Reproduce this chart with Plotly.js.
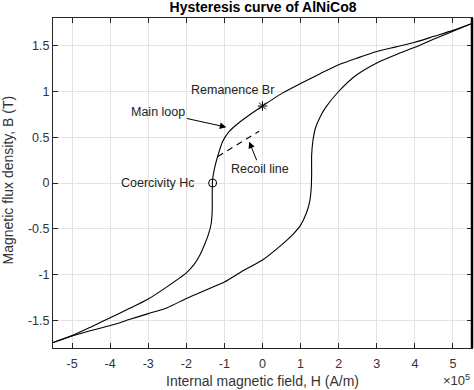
<!DOCTYPE html>
<html><head><meta charset="utf-8">
<script src="https://cdn.plot.ly/plotly-3.0.1.min.js"></script>
<style>html,body{margin:0;padding:0;background:#fff}#chart{width:474px;height:390px}</style>
</head><body><div id="chart"></div>
<script>
// H in units of 1e5 A/m, B in T
const descH = [5.5, 5.0, 4.5, 4.0, 3.5, 3.0, 2.5, 2.0, 1.5, 1.0, 0.5, 0.0, -0.4, -0.7, -0.9, -1.05, -1.17, -1.26, -1.31, -1.32, -1.32, -1.35, -1.42, -1.52, -1.65, -1.8, -2.0, -2.5, -3.0, -3.5, -4.0, -4.5, -5.0, -5.5];
const descB = [1.74, 1.665, 1.60, 1.535, 1.485, 1.435, 1.365, 1.29, 1.19, 1.085, 0.975, 0.84, 0.725, 0.63, 0.55, 0.45, 0.30, 0.16, 0.04, -0.1, -0.3, -0.45, -0.56, -0.67, -0.79, -0.89, -0.98, -1.13, -1.265, -1.37, -1.47, -1.57, -1.665, -1.74];
const ascH = [-5.5, -5.0, -4.5, -4.0, -3.5, -3.0, -2.5, -2.0, -1.5, -1.0, -0.5, 0.0, 0.5, 0.8, 1.0, 1.15, 1.24, 1.28, 1.29, 1.29, 1.32, 1.39, 1.5, 1.65, 1.98, 2.44, 3.0, 3.5, 4.0, 4.5, 5.0, 5.5];
const ascB = [-1.74, -1.67, -1.61, -1.555, -1.49, -1.425, -1.36, -1.26, -1.17, -1.08, -0.955, -0.84, -0.675, -0.56, -0.46, -0.33, -0.2, -0.05, 0.1, 0.3, 0.45, 0.60, 0.71, 0.82, 0.99, 1.17, 1.31, 1.40, 1.48, 1.57, 1.655, 1.74];
const recoilH = [-1.17, -0.09];
const recoilB = [0.29, 0.565];
const brH = [0], brB = [0.84];
const hcH = [-1.31], hcB = [0];
const xTicks = [-5, -4, -3, -2, -1, 0, 1, 2, 3, 4, 5];
const yTicks = [-1.5, -1, -0.5, 0, 0.5, 1, 1.5];
const yTickText = ['-1.5', '-1', '-0.5', '0', '0.5', '1', '1.5'];

const ln = {color: '#000', width: 1.1, shape: 'spline', smoothing: 0.6};
const traces = [
  {x: descH, y: descB, mode: 'lines', line: ln},
  {x: ascH, y: ascB, mode: 'lines', line: ln},
  {x: recoilH, y: recoilB, mode: 'lines', line: {color: '#000', width: 1.1, dash: '6px,5px'}},
  {x: brH, y: brB, mode: 'markers', marker: {symbol: 'asterisk-open', size: 8, color: '#000', line: {color: '#000', width: 1}}},
  {x: hcH, y: hcB, mode: 'markers', marker: {symbol: 'circle-open', size: 8, color: '#000', line: {color: '#000', width: 1}}}
];
const ff = 'Liberation Sans, Arial, sans-serif';
const axFont = {family: ff, size: 12.5, color: '#333'};
const annFont = {family: ff, size: 12.5, color: '#222'};
const layout = {
  width: 474, height: 390,
  margin: {l: 53, r: 2, t: 18, b: 42},
  paper_bgcolor: '#fff', plot_bgcolor: '#fff',
  showlegend: false,
  title: {text: '<b>Hysteresis curve of AlNiCo8</b>', x: 0.555, xanchor: 'center', y: 0.995, yanchor: 'top',
          font: {family: ff, size: 14, color: '#000'}},
  xaxis: {range: [-5.5, 5.5], tickvals: xTicks, ticktext: xTicks.map(String), ticks: 'inside', ticklen: 5, tickcolor: '#262626',
          showline: true, linecolor: '#262626', linewidth: 1, mirror: 'ticks', zeroline: false, ticklabelstandoff: 4,
          showgrid: true, gridcolor: '#e3e3e3', gridwidth: 1, tickfont: axFont,
          title: {text: 'Internal magnetic field, H (A/m)', font: {family: ff, size: 14, color: '#333'}, standoff: 6}},
  yaxis: {range: [-1.8, 1.8], tickvals: yTicks, ticktext: yTickText, ticks: 'inside', ticklen: 5, tickcolor: '#262626',
          showline: true, linecolor: '#262626', linewidth: 1, mirror: 'ticks', zeroline: false,
          showgrid: true, gridcolor: '#e3e3e3', gridwidth: 1, tickfont: axFont},
  shapes: [
    {type: 'line', xref: 'paper', yref: 'paper', x0: 1, x1: 1, y0: 0, y1: 1, line: {color: '#000', width: 2.5}}
  ],
  annotations: [
    {xref: 'paper', yref: 'paper', x: -0.108, y: 0.51, xanchor: 'center', yanchor: 'middle', textangle: -90,
     text: 'Magnetic flux density, B (T)', showarrow: false, font: {family: ff, size: 14, color: '#333'}},
    {x: -1.92, y: 1.02, xanchor: 'left', yanchor: 'middle', text: 'Remanence Br', showarrow: false, font: annFont},
    {x: -0.95, y: 0.609, ax: -68, ay: -15, text: 'Main loop', showarrow: true, arrowhead: 2, arrowsize: 1.3, arrowwidth: 1, arrowcolor: '#000', font: annFont},
    {x: -0.35, y: 0.45, ax: 11, ay: 27, text: 'Recoil line', showarrow: true, arrowhead: 2, arrowsize: 1.3, arrowwidth: 1, arrowcolor: '#000', font: annFont},
    {x: -1.71, y: 0, xanchor: 'right', yanchor: 'middle', text: 'Coercivity Hc', showarrow: false, font: annFont},
    {xref: 'paper', yref: 'paper', x: 1.0, y: -0.128, xanchor: 'right', yanchor: 'bottom', text: '\u00d710<sup>5</sup>', showarrow: false, font: {family: ff, size: 13, color: '#333'}}
  ]
};
Plotly.newPlot('chart', traces, layout, {staticPlot: true, displayModeBar: false});
</script></body></html>
